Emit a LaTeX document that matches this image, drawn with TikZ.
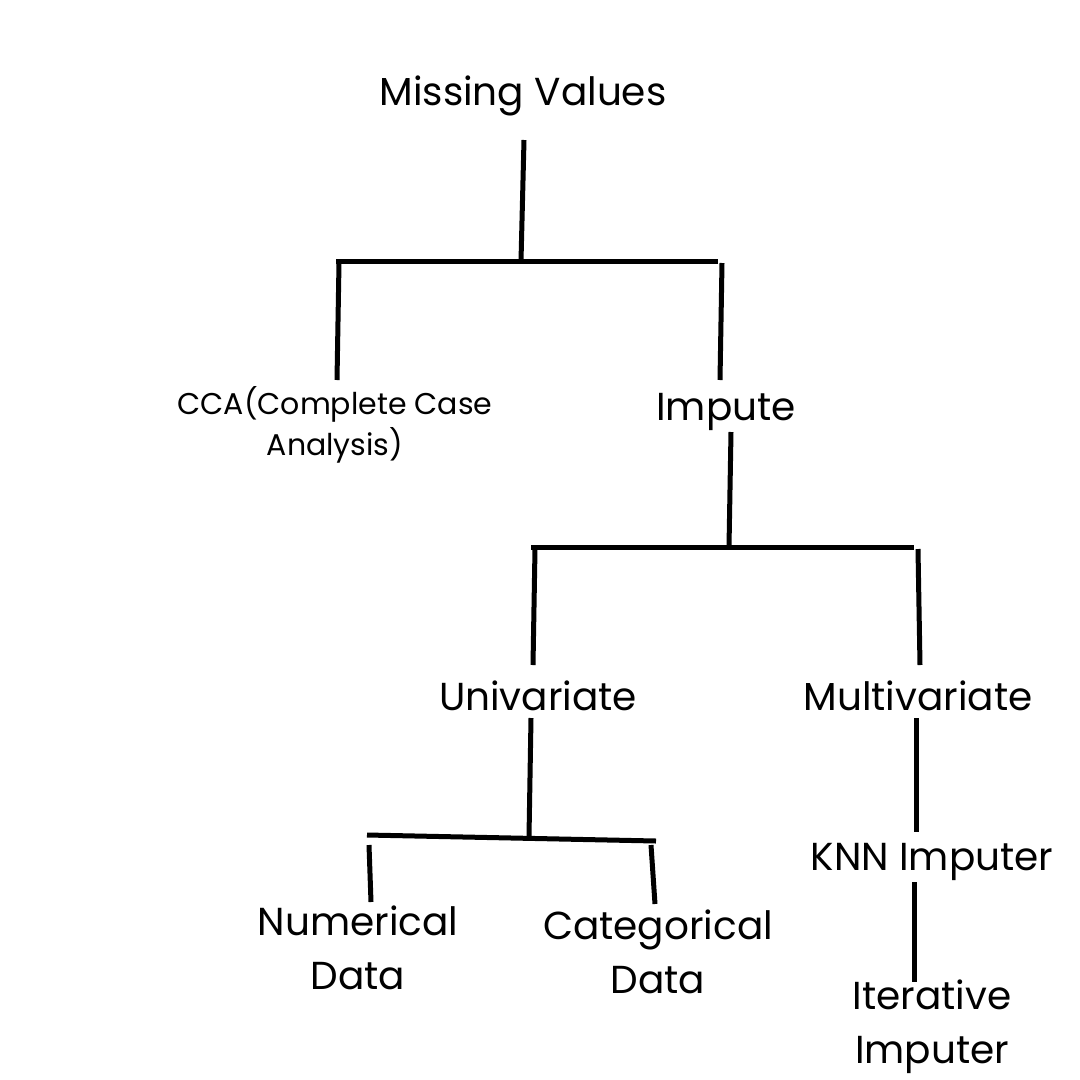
\documentclass[tikz,border=0pt]{standalone}
\usepackage{fontspec}
\setmainfont{Poppins}
\usepackage{tikz}

\tikzset{
  lbl/.style={inner sep=0pt, align=center, font=\fontsize{39}{54}\selectfont},
  small/.style={inner sep=0pt, align=center, font=\fontsize{30}{41}\selectfont},
  branch/.style={line width=5pt, black}
}

\begin{document}
\begin{tikzpicture}[x=1pt,y=-1pt]
    \useasboundingbox[fill=white] (0,0) rectangle (1080,1080);
    \node[lbl] (mv) at (523,96) {Missing Values};
    \node[small] (cca) at (335,425) {CCA(Complete Case\\Analysis)};
    \node[lbl] (imp) at (726,412) {Impute};
    \node[lbl] (uni) at (538,696) {Univariate};
    \node[lbl] (multi) at (918,696) {Multivariate};
    \node[lbl] (num) at (358,948) {Numerical\\Data};
    \node[lbl] (cat) at (658,952) {Categorical\\Data};
    \node[lbl] (knn) at (932,862) {KNN Imputer};
    \node[lbl] (iter) at (932,1027) {Iterative\\Imputer};
    \coordinate (mv-s) at (524,140);
    \coordinate (b1-l) at (336,261);
    \coordinate (b1-m) at (521,261);
    \coordinate (b1-r) at (718,261);
    \coordinate (cca-n) at (337,380);
    \coordinate (imp-n) at (720,380);
    \coordinate (imp-s) at (731,432);
    \coordinate (b2-l) at (531,547);
    \coordinate (b2-m) at (729,547);
    \coordinate (b2-r) at (914,547);
    \coordinate (uni-n) at (533,665);
    \coordinate (multi-n) at (920,665);
    \coordinate (uni-s) at (531,718);
    \coordinate (b3-l) at (367,835);
    \coordinate (b3-m) at (529,837);
    \coordinate (b3-r) at (656,841);
    \coordinate (num-n) at (371,902);
    \coordinate (cat-n) at (655,904);
    \coordinate (multi-s) at (916,718);
    \coordinate (knn-n) at (916,832);
    \coordinate (knn-s) at (914,882);
    \coordinate (iter-n) at (914,982);
    \draw[branch] (mv-s) -- (b1-m);
    \draw[branch] (b1-l) -- (b1-r);
    \draw[branch] (339,263) -- (cca-n);
    \draw[branch] (722,263) -- (imp-n);
    \draw[branch] (imp-s) -- (b2-m);
    \draw[branch] (b2-l) -- (b2-r);
    \draw[branch] (535,549) -- (uni-n);
    \draw[branch] (918,549) -- (multi-n);
    \draw[branch] (uni-s) -- (b3-m);
    \draw[branch] (b3-l) -- (b3-r);
    \draw[branch] (369,845) -- (num-n);
    \draw[branch] (651,845) -- (cat-n);
    \draw[branch] (multi-s) -- (knn-n);
    \draw[branch] (knn-s) -- (iter-n);
\end{tikzpicture}
\end{document}
